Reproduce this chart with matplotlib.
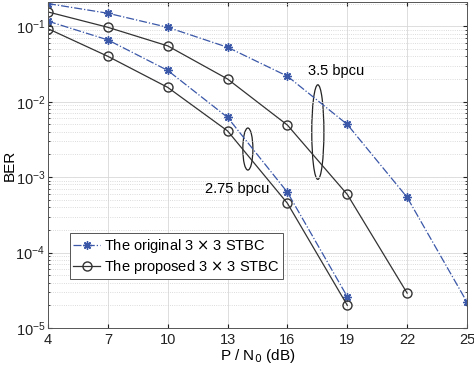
import matplotlib.pyplot as plt
import numpy as np
from matplotlib.patches import Ellipse
from matplotlib.ticker import LogLocator, NullFormatter

plt.rcParams['font.family'] = ['Liberation Sans', 'DejaVu Sans']

# data
snr_a = [4, 7, 10, 13, 16, 19, 22, 25]
orig_35 = [0.2, 0.149, 0.097, 0.0527, 0.0218, 0.005, 5.4e-4, 2.2e-5]
snr_b = [4, 7, 10, 13, 16, 19, 22]
prop_35 = [0.155, 0.097, 0.055, 0.02, 0.0049, 5.9e-4, 2.9e-5]
snr_c = [4, 7, 10, 13, 16, 19]
orig_275 = [0.117, 0.066, 0.026, 0.0062, 6.3e-4, 2.6e-5]
prop_275 = [0.093, 0.04, 0.0155, 0.0041, 4.5e-4, 2.0e-5]
xticks = [4, 7, 10, 13, 16, 19, 22, 25]

blue = '#3a57a8'
star = (8, 2, 0)

fig = plt.figure(figsize=(4.74, 3.76), dpi=100)
ax = fig.add_axes([48/474, 48/376, 419/474, 326/376])

ax.semilogy(snr_a, orig_35, '-.', color=blue, marker=star, ms=6, lw=0.9,
            label=r'The original 3 $\times$ 3 STBC')
ax.semilogy(snr_b, prop_35, '-', color='#333333', marker='o', ms=6.5, mfc='none',
            lw=0.9, label=r'The proposed 3 $\times$ 3 STBC')
ax.semilogy(snr_c, orig_275, '-.', color=blue, marker=star, ms=6, lw=0.9)
ax.semilogy(snr_c, prop_275, '-', color='#333333', marker='o', ms=6.5, mfc='none', lw=0.9)

ax.set_xlim(4, 25)
ax.set_ylim(1e-5, 0.21)
ax.set_xticks(xticks)
ax.yaxis.set_minor_locator(LogLocator(base=10, subs=np.arange(2, 10)))
ax.yaxis.set_minor_formatter(NullFormatter())

ax.grid(True, which='major', color='#d8d8d8', lw=0.6)
ax.grid(True, which='minor', color='#d0d0d0', lw=0.6, ls=':')
ax.tick_params(which='both', direction='in', top=True, right=True, labelsize=10.5,
               colors='#222222', length=3)
ax.tick_params(which='minor', length=1.5)
ax.tick_params(axis='y', pad=2)
for s in ax.spines.values():
    s.set_color('#555555')
    s.set_linewidth(0.7)

ax.set_xlabel(r'P / N$_0$ (dB)', fontsize=11, labelpad=0)
ax.set_ylabel('BER', fontsize=11, labelpad=-1)

# bpcu ellipses and labels
ax.add_patch(Ellipse((0.644, 0.601), 0.029, 0.29, transform=ax.transAxes,
                     fill=False, color='#222222', lw=0.9))
ax.add_patch(Ellipse((0.477, 0.549), 0.024, 0.129, transform=ax.transAxes,
                     fill=False, color='#222222', lw=0.9))
ax.text(0.62, 0.775, '3.5 bpcu', transform=ax.transAxes, fontsize=10.5)
ax.text(0.375, 0.415, '2.75 bpcu', transform=ax.transAxes, fontsize=10.5)

leg = ax.legend(loc='lower left', bbox_to_anchor=(0.045, 0.14), fontsize=10.5,
                fancybox=False, framealpha=1, edgecolor='#555555',
                borderpad=0.25, labelspacing=0.2, handlelength=1.8, handletextpad=0.3,
                borderaxespad=0.2)
leg.get_frame().set_linewidth(0.7)

fig.savefig('out.png', dpi=100)
